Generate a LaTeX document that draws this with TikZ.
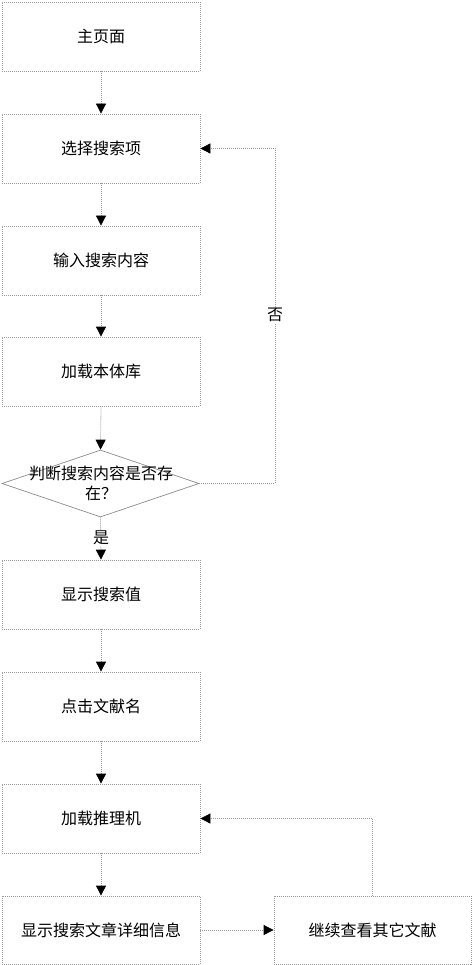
\documentclass[tikz,border=0pt]{standalone}
\usepackage{fontspec}
\setmainfont{Noto Sans CJK SC}
\usetikzlibrary{arrows.meta,shapes.geometric}
\begin{document}
\begin{tikzpicture}[x=1pt,y=-1pt,
  txt/.style={font=\fontsize{16}{20}\selectfont},
  box/.style={txt,draw=gray!80,dash pattern=on 1pt off 1pt,line width=0.8pt,minimum width=198pt,minimum height=69pt,inner sep=0pt},
  dia/.style={diamond,draw=gray!90,line width=0.7pt,minimum width=197pt,minimum height=67pt,inner sep=0pt},
  link/.style={draw=gray!80,dash pattern=on 1pt off 1pt,line width=0.8pt,-{Triangle[length=10pt,width=10pt,color=black]}},
  lbl/.style={txt,fill=white,inner sep=1pt}]
\useasboundingbox (0,0) rectangle (474,965);
\node[box] (b1) at (101,36.5) {主页面};
\node[box] (b2) at (101,148.5) {选择搜索项};
\node[box] (b3) at (101,260.5) {输入搜索内容};
\node[box] (b4) at (101,371.5) {加载本体库};
\node[dia] (d) at (100.5,483.5) {};
\node[txt,align=center,inner sep=0pt] (dt) at (101,483) {判断搜索内容是否存\\在？};
\node[box] (b5) at (101,594.5) {显示搜索值};
\node[box] (b6) at (101,706.5) {点击文献名};
\node[box] (b7) at (101,818.5) {加载推理机};
\node[box,minimum height=68pt] (b8) at (101,930) {显示搜索文章详细信息};
\node[box,minimum width=197pt,minimum height=68pt] (b9) at (372.5,930) {继续查看其它文献};
\coordinate (nocorner) at (275,483.5);
\draw[link] (b1.south) -- (b2.north);
\draw[link] (b2.south) -- (b3.north);
\draw[link] (b3.south) -- (b4.north);
\draw[link] (b4.south) -- (d.north);
\draw[link] (d.south) -- (b5.north);
\draw[link] (b5.south) -- (b6.north);
\draw[link] (b6.south) -- (b7.north);
\draw[link] (b7.south) -- (b8.north);
\draw[link] (b8.east) -- (b9.west);
\draw[link] (b9.north) |- (b7.east);
\draw[link] (d.east) -- (nocorner) |- (b2.east);
\node[lbl] (no) at (275,315) {否};
\node[lbl] (yes) at (101,538) {是};
\end{tikzpicture}
\end{document}
